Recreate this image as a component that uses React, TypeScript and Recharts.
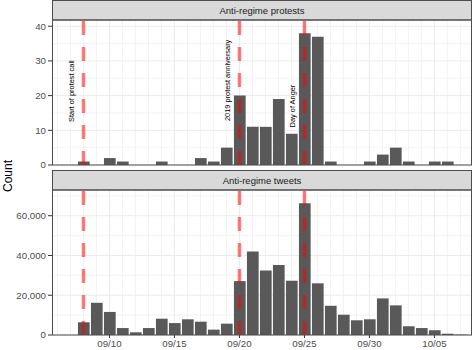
import React from 'react';
import { BarChart, Bar, XAxis, YAxis, CartesianGrid, ReferenceLine } from 'recharts';

// ---- data ----
const dates = [
  '09/08', '09/09', '09/10', '09/11', '09/12', '09/13', '09/14', '09/15', '09/16', '09/17',
  '09/18', '09/19', '09/20', '09/21', '09/22', '09/23', '09/24', '09/25', '09/26', '09/27',
  '09/28', '09/29', '09/30', '10/01', '10/02', '10/03', '10/04', '10/05', '10/06', '10/07',
];
const protests = [1, 0, 2, 1, 0, 0, 1, 0, 0, 2, 1, 5, 20, 11, 11, 19, 9, 38, 37, 1, 0, 0, 1, 3, 5, 1, 0, 1, 1, 0];
const tweets = [
  6400, 16200, 11600, 3500, 1350, 3500, 8200, 6000, 7900, 6700,
  2700, 5700, 27100, 42000, 32500, 35200, 27300, 66300, 26000, 14700,
  10200, 7400, 7900, 18400, 14900, 4400, 3500, 2400, 650, 200,
];
const xTickDates = ['09/10', '09/15', '09/20', '09/25', '09/30', '10/05'];
const protestTicks = [0, 10, 20, 30, 40];
const tweetTicks = [0, 20000, 40000, 60000];
const eventDates = ['09/08', '09/20', '09/25'];
const eventLabels = ['Start of protest call', '2019 protest anniversary', 'Day of Anger'];
const eventLabelY = [21.3, 24.4, 17.0];
const panelTitles = ['Anti-regime protests', 'Anti-regime tweets'];

// ---- helpers ----
const dayNum = (s: string) => {
  const [m, d] = s.split('/').map(Number);
  return m === 9 ? d : d + 30;
};
const data = dates.map((d, i) => ({ day: dayNum(d), protests: protests[i], tweets: tweets[i] }));
const xTicks = xTickDates.map(dayNum);
const xLabelOf = (v: number) => xTickDates[xTicks.indexOf(v)] ?? '';
const xDomain: [number, number] = [5.58, 37.89];
const allDays = Array.from({ length: 32 }, (_, i) => 6 + i);

const protestMax = Math.max(...protests) * 1.1;
const tweetMax = Math.max(...tweets) * 1.1;

const FONT = '"Liberation Sans", Arial, Helvetica, sans-serif';
const W = 474;
const PL = 52;
const PR = 472;
const GRID = '#EBEBEB';
const BAR = '#595959';

const fmtComma = (v: number) => v.toLocaleString('en-US');

const makeLabel = (text: string, yVal: number) => (props: any) => {
  const vb = props.viewBox || {};
  const x = (vb.x ?? 0) - 11.5;
  const y = (vb.y ?? 0) + (vb.height ?? 0) * (1 - yVal / protestMax);
  return (
    <text
      x={x}
      y={y}
      transform={`rotate(-90 ${x} ${y})`}
      textAnchor="middle"
      dominantBaseline="central"
      fontSize={7.4}
      fill="#000"
      fontFamily={FONT}
    >
      {text}
    </text>
  );
};

const Panel = ({ dataKey, max, ticks, minorY, showX, showLabels, height, marginTop, fmt }: any) => (
  <BarChart
    width={W}
    height={height}
    data={data}
    margin={{ top: marginTop, right: W - PR, left: 0, bottom: showX ? 0 : 5 }}
    barCategoryGap={0}
  >
    <CartesianGrid stroke={GRID} strokeWidth={0.6} verticalValues={allDays} horizontalValues={minorY} />
    <CartesianGrid stroke={GRID} strokeWidth={1} verticalValues={xTicks} horizontalValues={ticks} />
    <XAxis
      dataKey="day"
      type="number"
      domain={xDomain}
      allowDataOverflow
      ticks={xTicks}
      tickFormatter={xLabelOf}
      hide={!showX}
      height={15}
      axisLine={false}
      tickSize={3}
      tickMargin={2}
      tickLine={{ stroke: '#333' }}
      tick={{ fill: '#4D4D4D', fontSize: 9.7, fontFamily: FONT }}
      interval={0}
    />
    <YAxis
      type="number"
      domain={[0, max]}
      allowDataOverflow
      ticks={ticks}
      tickFormatter={fmt}
      width={PL}
      axisLine={false}
      tickSize={4}
      tickMargin={2}
      tickLine={{ stroke: '#333' }}
      tick={{ fill: '#4D4D4D', fontSize: 9.7, fontFamily: FONT }}
      interval={0}
    />
    <Bar dataKey={dataKey} fill={BAR} barSize={11.7} isAnimationActive={false} />
    {eventDates.map((d, i) => (
      <ReferenceLine
        key={d}
        x={dayNum(d)}
        stroke="#FF0000"
        strokeOpacity={0.52}
        strokeWidth={3.5}
        strokeDasharray="14 12"
        label={showLabels ? makeLabel(eventLabels[i], eventLabelY[i]) : undefined}
      />
    ))}
  </BarChart>
);

export default function App() {
  return (
    <div style={{ position: 'absolute', left: 0, top: 0, width: W, height: 350, background: '#fff', fontFamily: FONT }}>
      <div style={{ position: 'absolute', left: 0, top: 0 }}>
        <Panel
          dataKey="protests"
          max={protestMax}
          ticks={protestTicks}
          minorY={[5, 15, 25, 35]}
          showX={false}
          showLabels
          height={170}
          marginTop={20}
          fmt={(v: number) => String(v)}
        />
      </div>
      <div style={{ position: 'absolute', left: 0, top: 170 }}>
        <Panel
          dataKey="tweets"
          max={tweetMax}
          ticks={tweetTicks}
          minorY={[10000, 30000, 50000, 70000]}
          showX
          showLabels={false}
          height={180}
          marginTop={20}
          fmt={fmtComma}
        />
      </div>
      <svg width={W} height={350} style={{ position: 'absolute', left: 0, top: 0, pointerEvents: 'none' }}>
        {[0, 170].map((oy, i) => (
          <g key={i}>
            <rect x={PL + 0.5} y={oy + 0.5} width={PR - PL - 1} height={19.5} fill="#D9D9D9" stroke="#4d4d4d" strokeWidth={1} />
            <text x={(PL + PR) / 2} y={oy + 10.5} textAnchor="middle" dominantBaseline="central" fontSize={9.5} fill="#1A1A1A" fontFamily={FONT}>
              {panelTitles[i]}
            </text>
            <rect x={PL + 0.5} y={oy + 20} width={PR - PL - 1} height={145} fill="none" stroke="#4d4d4d" strokeWidth={1} />
          </g>
        ))}
        <text x={7.5} y={176} transform="rotate(-90 7.5 176)" textAnchor="middle" dominantBaseline="central" fontSize={12} fill="#000" fontFamily={FONT}>
          Count
        </text>
      </svg>
    </div>
  );
}
